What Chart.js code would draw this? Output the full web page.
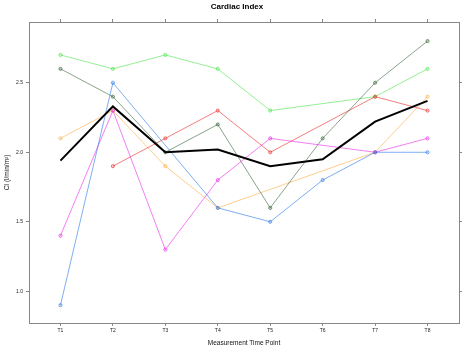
<!DOCTYPE html>
<html>
<head>
<meta charset="utf-8">
<script src="https://cdn.jsdelivr.net/npm/chart.js@4/dist/chart.umd.min.js"></script>
<style>
html,body{margin:0;padding:0;background:#fff;}
#wrap{width:474px;height:349px;position:relative;}
</style>
</head>
<body>
<div id="wrap"><canvas id="c" width="474" height="349"></canvas></div>
<script>
const categories = ["T1","T2","T3","T4","T5","T6","T7","T8"];
const yTickValues = [1.0, 1.5, 2.0, 2.5];
// subject series (null = not measured)
const seriesBlue    = [0.9, 2.5, null, 1.6, 1.5, 1.8, 2.0, 2.0];
const seriesMagenta = [1.4, 2.3, 1.3, 1.8, 2.1, null, 2.0, 2.1];
const seriesDkGreen = [2.6, 2.4, 2.0, 2.2, 1.6, 2.1, 2.5, 2.8];
const seriesRed     = [null, 1.9, 2.1, 2.3, 2.0, null, 2.4, 2.3];
const seriesOrange  = [2.1, 2.3, 1.9, 1.6, null, null, 2.0, 2.4];
const seriesGreen   = [2.7, 2.6, 2.7, 2.6, 2.3, null, 2.4, 2.6];
const seriesMean    = [1.94, 2.33, 2.0, 2.02, 1.9, 1.95, 2.22, 2.37];

const toPts = arr => arr.map((v,i)=>({x:i+1, y:v}));
const FONT = "'Liberation Sans', Arial, sans-serif";

function subj(data, color, fill){
  return {data: toPts(data), borderColor: color, backgroundColor: fill,
    pointBorderColor: color, pointBackgroundColor: fill,
    borderWidth: 1, pointRadius: 1.6, pointBorderWidth: 1, pointStyle:'circle',
    spanGaps: true, tension: 0, order: 1};
}

const titlePlugin = {
  id:'mainTitle',
  afterDraw(chart){
    const ctx = chart.ctx;
    ctx.save();
    ctx.font = "bold 8px " + FONT;
    ctx.fillStyle = "#000";
    ctx.textAlign = "center";
    ctx.textBaseline = "middle";
    ctx.fillText("Cardiac Index", 237, 6.5);
    ctx.restore();
  }
};

new Chart(document.getElementById('c'), {
  type: 'line',
  data: {
    datasets: [
      subj(seriesBlue,    'rgba(40,120,230,0.6)',  'rgba(40,120,230,0.2)'),
      subj(seriesMagenta, 'rgba(235,40,235,0.6)',  'rgba(235,40,235,0.2)'),
      subj(seriesDkGreen, 'rgba(40,90,40,0.55)',   'rgba(40,90,40,0.25)'),
      subj(seriesRed,     'rgba(235,40,40,0.6)',   'rgba(235,40,40,0.2)'),
      subj(seriesOrange,  'rgba(255,165,50,0.55)', 'rgba(255,165,50,0.2)'),
      subj(seriesGreen,   'rgba(60,225,60,0.55)',  'rgba(60,225,60,0.2)'),
      {data: toPts(seriesMean), borderColor:'#000', borderWidth:2, pointRadius:0,
       spanGaps:true, tension:0, order:0}
    ]
  },
  options: {
    responsive:false, animation:false,
    devicePixelRatio: 1,
    layout:{padding:{left:0, right:12, top:19, bottom:0}},
    plugins:{legend:{display:false}, tooltip:{enabled:false}, title:{display:false}},
    scales:{
      x:{
        type:'linear', position:'bottom', min:0.4, max:8.6,
        afterBuildTicks: s => { s.ticks = categories.map((c,i)=>({value:i+1})); },
        afterFit: s => { s.height = 26; },
        ticks:{callback:(v)=>categories[v-1] ?? '', font:{family:FONT, size:5}, color:'#222', padding:2, maxRotation:0, autoSkip:false},
        grid:{drawOnChartArea:false, drawTicks:true, tickLength:3, color:'#888', lineWidth:1},
        border:{display:true, color:'#888', width:1},
        title:{display:true, text:'Measurement Time Point', font:{family:FONT, size:6.5}, color:'#111', padding:{top:2,bottom:2}}
      },
      x2:{
        type:'linear', position:'top', min:0.4, max:8.6,
        afterBuildTicks: s => { s.ticks = categories.map((c,i)=>({value:i+1})); },
        afterFit: s => { s.height = 3; },
        ticks:{display:false},
        grid:{drawOnChartArea:false, drawTicks:true, tickLength:3, color:'#888', lineWidth:1},
        border:{display:true, color:'#888', width:1}
      },
      y:{
        type:'linear', position:'left', min:0.772, max:2.937,
        afterBuildTicks: s => { s.ticks = yTickValues.map(v=>({value:v})); },
        afterFit: s => { s.width = 29; },
        ticks:{callback:(v)=>Number(v).toFixed(1), font:{family:FONT, size:5}, color:'#222', padding:3},
        grid:{drawOnChartArea:false, drawTicks:true, tickLength:3, color:'#888', lineWidth:1},
        border:{display:true, color:'#888', width:1},
        title:{display:true, text:'CI (l/min/m²)', font:{family:FONT, size:6.5}, color:'#111', padding:{top:3,bottom:0}}
      },
      y2:{
        type:'linear', position:'right', min:0.772, max:2.937,
        afterBuildTicks: s => { s.ticks = yTickValues.map(v=>({value:v})); },
        afterFit: s => { s.width = 3; },
        ticks:{display:false},
        grid:{drawOnChartArea:false, drawTicks:true, tickLength:3, color:'#888', lineWidth:1},
        border:{display:true, color:'#888', width:1}
      }
    }
  },
  plugins:[titlePlugin]
});
</script>
</body>
</html>
